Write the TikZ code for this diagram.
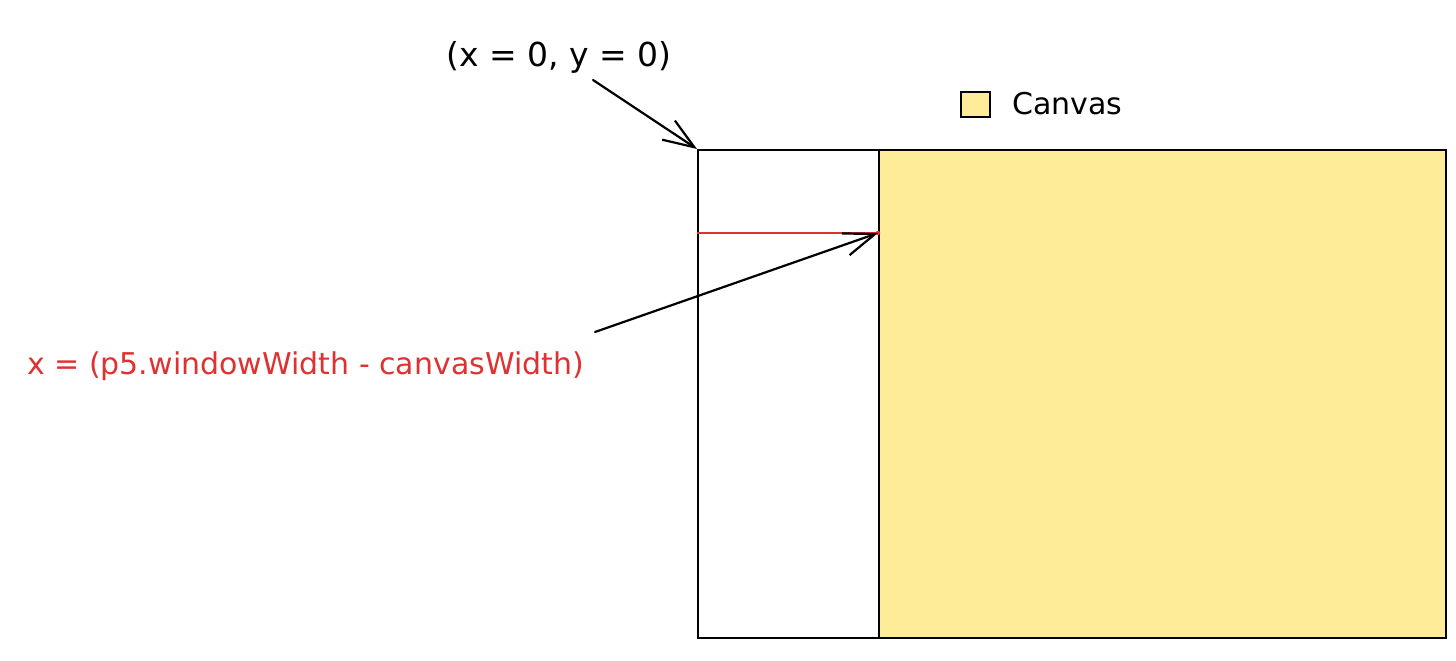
\documentclass[tikz,border=0pt]{standalone}
\usepackage{fontspec}
\setmainfont{DejaVu Sans}
\usetikzlibrary{arrows.meta}
\definecolor{canvasyellow}{HTML}{FFEC99}
\definecolor{labelred}{HTML}{E03131}
\tikzset{
  box/.style={draw=black, line width=2.2pt, inner sep=0pt, anchor=north west},
  pointer/.style={draw=black, line width=2.2pt, line cap=round, -{Straight Barb[length=31pt,width=23pt,line width=2.2pt]}},
  hand/.style={inner sep=0pt},
}
\begin{document}
\begin{tikzpicture}[x=1pt,y=-1pt]
\useasboundingbox (0,0) rectangle (1456,661);
% window and canvas
\node[box, fill=white, minimum width=748pt, minimum height=488pt] (window) at (697,149) {};
\node[box, fill=canvasyellow, minimum width=567pt, minimum height=488pt] (canvas) at (878,149) {};
% legend
\node[box, fill=canvasyellow, minimum width=29pt, minimum height=25pt] (legendbox) at (960,91) {};
\node[hand, anchor=west, font=\fontsize{30}{34}\selectfont] (legendtext) at (1012,104) {Canvas};
% origin label
\node[hand, font=\fontsize{33}{38}\selectfont] (origin) at (559,57) {(x = 0, y = 0)};
\coordinate (originfoot) at (593,80);
\draw[pointer] (originfoot) -- (window.north west);
% red distance line
\coordinate (redstart) at (697,233);
\coordinate (redend) at (878,233);
\draw[labelred, line width=1.8pt] (redstart) -- (redend);
\fill[labelred] (redend) circle (2.2pt);
% red label
\node[hand, text=labelred, anchor=west, font=\fontsize{30}{34}\selectfont] (xlabel) at (27,366) {x = (p5.windowWidth - canvasWidth)};
\coordinate (xfoot) at (595,332);
\draw[pointer] (xfoot) -- (redend);
\end{tikzpicture}
\end{document}
